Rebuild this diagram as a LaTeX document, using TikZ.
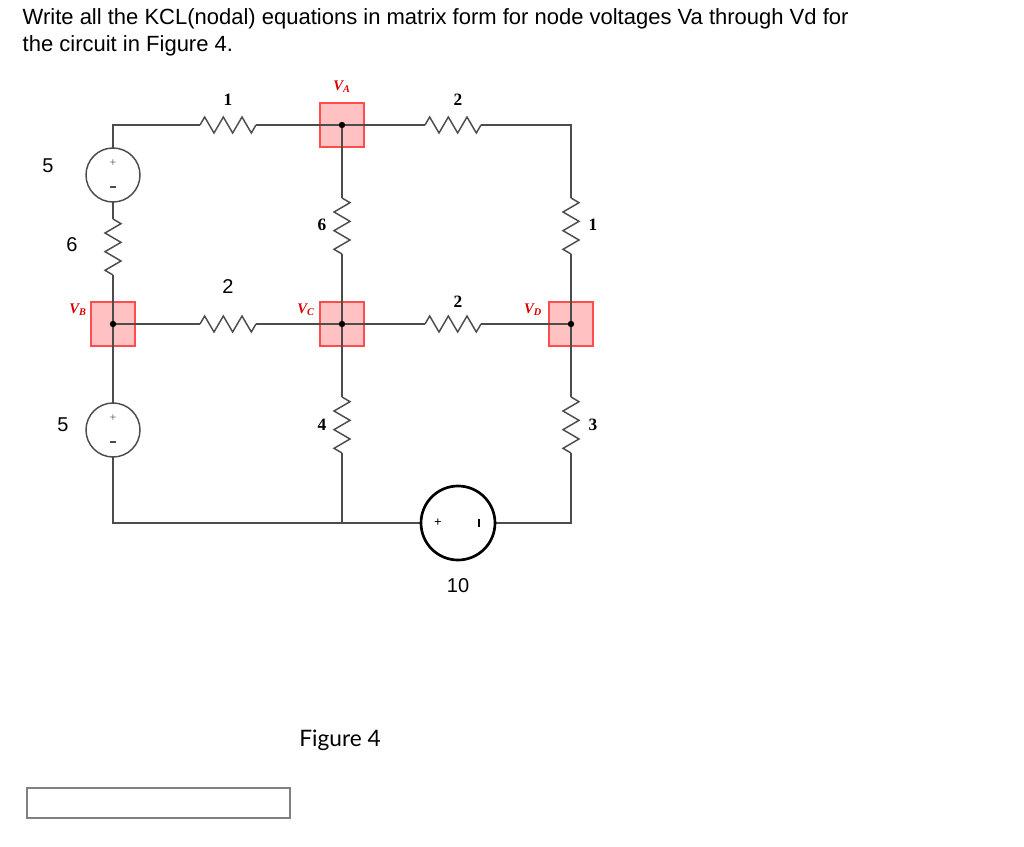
\documentclass[tikz,border=0pt]{standalone}
\usepackage{fontspec}
\setmainfont{Liberation Serif}
\newfontfamily\arial{Liberation Sans}
\newfontfamily\lato{Lato}
\begin{document}
\begin{tikzpicture}[x=0.75pt,y=-0.75pt,line width=1.1pt,
  wire/.style={draw=black!70},
  nbox/.style={fill=red!30,draw=red!70,line width=0.8pt,fill opacity=0.8},
  src/.style={draw=black!70,fill=white},
  lab/.style={font=\bfseries\fontsize{13}{13}\selectfont},
  slab/.style={font=\arial\fontsize{15}{15}\selectfont},
  vlab/.style={font=\bfseries\itshape\fontsize{11}{11}\selectfont,text=red!85!black}]
\useasboundingbox (0,0) rectangle (1024,846);
\newcommand\hz[2]{\draw[wire] (#1-28,#2) -- ++(4.67,-8) -- ++(9.33,16) -- ++(9.33,-16) -- ++(9.33,16) -- ++(9.33,-16) -- ++(9.33,16) -- ++(4.67,-8);}
\newcommand\vz[2]{\draw[wire] (#1,#2-28) -- ++(8,4.67) -- ++(-16,9.33) -- ++(16,9.33) -- ++(-16,9.33) -- ++(16,9.33) -- ++(-16,9.33) -- ++(8,4.67);}
% node boxes
\foreach \p/\q in {342/125,113/324,342/324,571/324} \fill[nbox] (\p-22,\q-22) rectangle (\p+22,\q+22);
% wires
\draw[wire] (113,148) -- (113,125) -- (200,125);
\draw[wire] (256,125) -- (425,125);
\draw[wire] (481,125) -- (571,125) -- (571,198);
\draw[wire] (571,254) -- (571,397);
\draw[wire] (571,453) -- (571,523) -- (495,523);
\draw[wire] (113,202) -- (113,219);
\draw[wire] (113,275) -- (113,403);
\draw[wire] (113,457) -- (113,523) -- (421,523);
\draw[wire] (342,125) -- (342,198);
\draw[wire] (342,254) -- (342,397);
\draw[wire] (342,453) -- (342,523);
\draw[wire] (113,324) -- (200,324);
\draw[wire] (256,324) -- (425,324);
\draw[wire] (481,324) -- (571,324);
\hz{228}{125}\hz{453}{125}\hz{228}{324}\hz{453}{324}
\vz{113}{247}\vz{342}{226}\vz{342}{425}\vz{571}{226}\vz{571}{425}
% node dots
\foreach \p/\q in {342/125,113/324,342/324,571/324} \fill (\p,\q) circle (3.2);
% sources
\draw[src] (113,175) circle (27);
\node[font=\fontsize{9}{9}\selectfont,text=black!70] at (113,163) {+};
\draw[black!70,line width=0.8pt] (110,187) -- (116,187);
\draw[src] (113,430) circle (27);
\node[font=\fontsize{9}{9}\selectfont,text=black!70] at (113,418) {+};
\draw[black!70,line width=0.8pt] (110,442) -- (116,442);
\draw[black,line width=2pt,fill=white] (458,523) circle (37);
\node[font=\bfseries\fontsize{10}{10}\selectfont] at (438,523) {+};
\draw[line width=1.6pt] (479,519) -- (479,527);
% labels
\node[lab] at (228,100) {1};
\node[lab] at (458,100) {2};
\node[lab] at (458,302) {2};
\node[lab] at (322,225) {6};
\node[lab] at (593,225) {1};
\node[lab] at (322,425) {4};
\node[lab] at (593,425) {3};
\node[slab] at (48,166) {5};
\node[slab] at (72,245) {6};
\node[slab] at (228,287) {2};
\node[slab] at (63,425) {5};
\node[slab] at (458,586) {10};
\node[vlab] at (342,87) {V\textsubscript{A}};
\node[vlab] at (78,310) {V\textsubscript{B}};
\node[vlab] at (306,310) {V\textsubscript{C}};
\node[vlab] at (533,310) {V\textsubscript{D}};
\node[font=\lato\fontsize{17}{17}\selectfont] at (340,740) {Figure 4};
\node[anchor=north west,align=left,font=\arial\fontsize{16.5}{20}\selectfont,inner sep=0] at (22,8) {Write all the KCL(nodal) equations in matrix form for node voltages Va through Vd for\\the circuit in Figure 4.};
\draw[black!50,line width=0.8pt] (27,788) rectangle (290,818);
\end{tikzpicture}
\end{document}
